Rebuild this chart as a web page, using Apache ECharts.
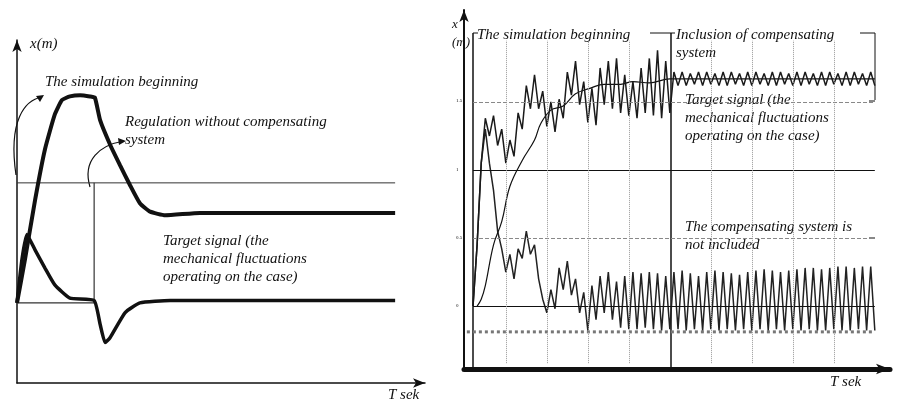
<!DOCTYPE html>
<html>
<head>
<meta charset="utf-8">
<script src="https://cdn.jsdelivr.net/npm/echarts@6/dist/echarts.min.js"></script>
<style>html,body{margin:0;background:#fff}#c{width:902px;height:406px}</style>
</head>
<body>
<div id="c"></div>
<script>
// left panel: [t, x] in plot units (reference level = 1)
const leftRegulation = [[0,0],[2.1,0.36],[4.8,0.86],[7.4,1.28],[10,1.57],[11.9,1.69],[14,1.72],[16.7,1.73],[19.3,1.72],[20.6,1.71],[22,1.52],[24.6,1.32],[27.2,1.15],[29.9,0.98],[32.5,0.83],[35.2,0.76],[39.2,0.73],[48.4,0.75],[61.6,0.75],[100,0.75]];
const leftTarget = [[0,0],[1.3,0.36],[2.6,0.57],[4.8,0.44],[7.4,0.29],[10,0.15],[14,0.04],[20.4,0.02],[22,-0.18],[23.3,-0.33],[24.6,-0.29],[28.6,-0.08],[32.5,0],[40.5,0.02],[100,0.02]];
const leftStepX = 20.4;

// right panel, sampled every 0.1 s
const rightStep = 0.1;
const compensated = [0,0.45,1.05,1.38,1.25,1.40,1.18,1.30,1.05,1.22,1.10,1.42,1.30,1.62,1.45,1.70,1.45,1.58,1.32,1.50,
  1.28,1.52,1.38,1.72,1.55,1.80,1.48,1.65,1.35,1.60,1.33,1.75,1.48,1.80,1.45,1.82,1.42,1.70,1.40,1.65,
  1.38,1.75,1.42,1.82,1.40,1.88,1.38,1.80,1.42,1.72,1.62,1.72,1.62,1.71,1.63,1.72,1.62,1.72,1.63,1.71,
  1.62,1.72,1.62,1.72,1.63,1.71,1.62,1.72,1.62,1.72,1.63,1.71,1.62,1.72,1.62,1.72,1.63,1.71,1.62,1.72,
  1.62,1.72,1.63,1.71,1.62,1.72,1.62,1.72,1.63,1.71,1.62,1.72,1.62,1.72,1.63,1.71,1.62,1.72,1.62];
const notIncluded = [0,0.45,1.05,1.30,1.05,0.85,0.55,0.42,0.25,0.38,0.20,0.42,0.35,0.55,0.38,0.45,0.20,0.05,-0.05,0.12,
  -0.02,0.28,0.12,0.33,0.08,0.20,-0.05,0.10,-0.18,0.15,-0.10,0.22,-0.05,0.25,-0.10,0.18,-0.16,0.22,-0.17,0.25,
  -0.17,0.24,-0.16,0.25,-0.17,0.24,-0.18,0.22,-0.17,0.25,-0.17,0.26,-0.18,0.24,-0.17,0.22,-0.18,0.25,-0.17,0.26,
  -0.18,0.25,-0.17,0.24,-0.18,0.23,-0.17,0.25,-0.18,0.26,-0.17,0.27,-0.18,0.26,-0.17,0.25,-0.18,0.26,-0.17,0.27,
  -0.18,0.28,-0.17,0.28,-0.18,0.27,-0.18,0.28,-0.17,0.29,-0.18,0.29,-0.18,0.28,-0.17,0.29,-0.18,0.29,-0.18];
const rightTarget = [[0.1,0],[0.2,0.05],[0.3,0.15],[0.5,0.45],[0.7,0.62],[0.9,0.88],[1.2,1.07],[1.5,1.22],[1.65,1.34],[1.9,1.44],[2.2,1.47],[2.5,1.56],[2.85,1.6],[3.2,1.63],[3.6,1.63],[3.9,1.65],[4.3,1.64],[4.8,1.67],[9.8,1.67]];
const noiseLevel = -0.19;
const yTickLabels = ['1.5','1','0.5','0'];
const yTickValues = [1.5,1,0.5,0];
const vGrid = [0.8,1.8,2.8,3.8,5.8,6.8,7.8,8.8];

const sampled = arr => arr.map((v,i) => [+(i*rightStep).toFixed(2), v]);
const serif = '"Liberation Serif","DejaVu Serif",serif';
const ink = '#111';

const chart = echarts.init(document.getElementById('c'), null, {renderer:'canvas'});
const axisBase = {axisTick:{show:false}, axisLabel:{show:false}, splitLine:{show:false}};
const lbl = (x,y,text,size) => ({type:'text', left:x, top:y, style:{text, font:`italic ${size||15}px ${serif}`, fill:ink, lineHeight:18}});
const seg = (x1,y1,x2,y2,w) => ({type:'line', shape:{x1,y1,x2,y2}, style:{stroke:ink, lineWidth:w||1}});

chart.setOption({
  animation:false,
  backgroundColor:'#fff',
  grid:[
    {left:17, top:40, width:408, height:343},
    {left:464, top:10, width:426, height:359}
  ],
  xAxis:[
    Object.assign({gridIndex:0, type:'value', min:0, max:107.9, axisLine:{onZero:false, symbol:['none','arrow'], symbolSize:[7,12], lineStyle:{color:ink, width:1.5}}}, axisBase),
    Object.assign({gridIndex:1, type:'value', min:-0.22, max:10.17, axisLine:{onZero:false, symbol:['none','arrow'], symbolSize:[8,14], lineStyle:{color:ink, width:5}}}, axisBase)
  ],
  yAxis:[
    Object.assign({gridIndex:0, type:'value', min:-0.667, max:2.19, axisLine:{onZero:false, symbol:['none','arrow'], symbolSize:[7,12], lineStyle:{color:ink, width:1.5}}}, axisBase),
    Object.assign({gridIndex:1, type:'value', min:-0.463, max:2.176, axisLine:{onZero:false, symbol:['none','arrow'], symbolSize:[7,12], lineStyle:{color:ink, width:2}}}, axisBase)
  ],
  series:[
    {type:'line', xAxisIndex:0, yAxisIndex:0, data:[[0,1],[100,1]], symbol:'none', lineStyle:{color:'#333', width:1}, silent:true},
    {type:'line', xAxisIndex:0, yAxisIndex:0, data:[[0,0],[leftStepX,0],[leftStepX,1]], symbol:'none', lineStyle:{color:'#333', width:1.2}},
    {type:'line', xAxisIndex:0, yAxisIndex:0, data:leftRegulation, symbol:'none', smooth:0.15, lineStyle:{color:ink, width:4}},
    {type:'line', xAxisIndex:0, yAxisIndex:0, data:leftTarget, symbol:'none', smooth:0.15, lineStyle:{color:ink, width:3.5}},
    {type:'line', xAxisIndex:1, yAxisIndex:1, data:[], symbol:'none',
      markLine:{silent:true, symbol:'none', label:{show:false},
        data:[
          ...yTickValues.map(v => [{coord:[0,v], lineStyle:{color:(v===1||v===0)?ink:'#888', type:(v===1||v===0)?'solid':'dashed', width:1}}, {coord:[9.8,v]}]),
          ...vGrid.map(v => [{coord:[v,-0.42], lineStyle:{color:'#999', type:'dotted', width:1}}, {coord:[v,1.95]}])
        ]}},
    {type:'line', xAxisIndex:1, yAxisIndex:1, data:[[-0.15,noiseLevel],[9.8,noiseLevel]], symbol:'none', lineStyle:{color:'#777', type:'dotted', width:3}},
    {type:'line', xAxisIndex:1, yAxisIndex:1, data:sampled(notIncluded), symbol:'none', lineStyle:{color:'#222', width:1.5}},
    {type:'line', xAxisIndex:1, yAxisIndex:1, data:rightTarget, symbol:'none', smooth:0.4, lineStyle:{color:ink, width:1.2}},
    {type:'line', xAxisIndex:1, yAxisIndex:1, data:sampled(compensated), symbol:'none', lineStyle:{color:'#1a1a1a', width:1.5}}
  ],
  graphic:[
    lbl(30,35,'x(m)'),
    lbl(45,73,'The simulation beginning'),
    lbl(125,113,'Regulation without compensating\nsystem'),
    lbl(163,232,'Target signal (the\nmechanical fluctuations\noperating on the case)'),
    lbl(388,386,'T sek'),
    {type:'bezierCurve', shape:{x1:16,y1:175,cpx1:8,cpy1:120,cpx2:25,cpy2:100,x2:42,y2:97}, style:{stroke:ink, lineWidth:1.2, fill:null}},
    {type:'polygon', shape:{points:[[44,95],[36,96],[40,102]]}, style:{fill:ink}},
    {type:'bezierCurve', shape:{x1:90,y1:187,cpx1:82,cpy1:160,cpx2:100,cpy2:145,x2:124,y2:141}, style:{stroke:ink, lineWidth:1.2, fill:null}},
    {type:'polygon', shape:{points:[[126,141],[118,138],[119,145]]}, style:{fill:ink}},
    lbl(452,16,'x\n(m)',13),
    lbl(477,26,'The simulation beginning'),
    lbl(676,26,'Inclusion of compensating\nsystem'),
    lbl(685,91,'Target signal (the\nmechanical fluctuations\noperating on the case)'),
    lbl(685,218,'The compensating system is\nnot included'),
    lbl(830,373,'T sek'),
    seg(473,33,473,368,1.5), seg(473,33,478,33,1), seg(650,33,675,33,1), seg(860,33,875,33,1), seg(875,33,875,100,1),
    seg(671,33,671,368,1.5), seg(869,101,875,101,1), seg(869,238,875,238,1),
    ...yTickLabels.map((t,i) => ({type:'text', left:456, top:[98,167,235,303][i], style:{text:t, font:`5px ${serif}`, fill:ink}}))
  ]
});
</script>
</body>
</html>
